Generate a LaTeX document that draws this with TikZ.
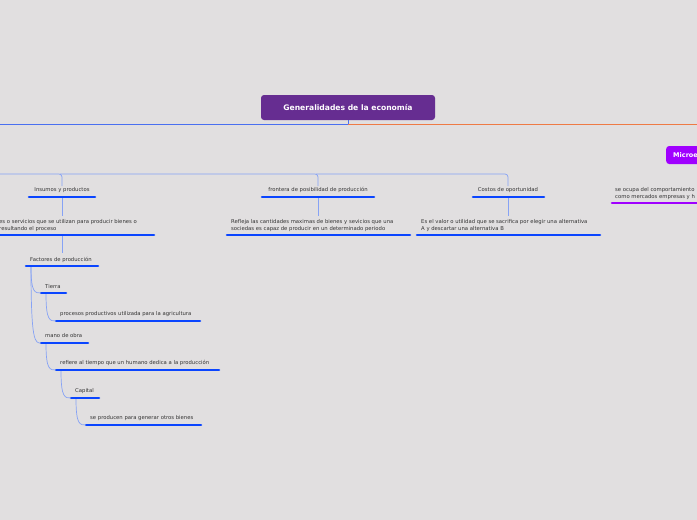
\documentclass[tikz,border=0pt]{standalone}
\usepackage{fontspec}
\setmainfont{DejaVu Sans}
\begin{document}
\begin{tikzpicture}[x=1pt,y=-1pt,
  lbl/.style={font=\fontsize{5.3}{6.6}\selectfont,text=black!80,inner sep=0pt,align=left},
  ul/.style={draw=ulblue,line width=2.6pt,line cap=round},
  conn/.style={draw=lnblue,line width=0.7pt},
  ]
\definecolor{ulblue}{HTML}{0A45FF}
\definecolor{lnblue}{HTML}{86A2F5}
\definecolor{rootc}{HTML}{662D91}
\definecolor{microc}{HTML}{A000FF}
\definecolor{orng}{HTML}{EE7A45}
\definecolor{bgc}{HTML}{E1DFE0}
\definecolor{busblue}{HTML}{4A6FF0}
\useasboundingbox (0,0) rectangle (697,520);
\fill[bgc] (0,0) rectangle (697,520);
\clip (0,0) rectangle (697,520);
% root
\node[fill=rootc,rounded corners=3pt,minimum width=174pt,minimum height=25pt,text=white,font=\bfseries\fontsize{7.6}{9}\selectfont] (root) at (348,107.5) {Generalidades de la  economía};
\coordinate (rb) at (348,124);
\draw[busblue,line width=0.9pt] (root.south) -- (rb) -- (0,124);
\draw[orng,line width=0.9pt] (rb) -- (697,124);
% micro
\node[fill=microc,rounded corners=3pt,anchor=west,minimum height=18pt,text=white,font=\bfseries\fontsize{6.5}{8}\selectfont,inner xsep=7pt] (micro) at (666,155) {Microeconomía};
% top blue bus
\coordinate (bus0) at (0,174);
\draw[conn,rounded corners=3pt] (bus0) -- (62,174) -- (62,186);
\draw[conn,rounded corners=3pt] (60,174) -- (318,174) -- (318,186);
\draw[conn,rounded corners=3pt] (316,174) -- (508,174) -- (508,186);
% Insumos
\node[lbl] (ins) at (62,190) {Insumos y productos};
\draw[ul] (29,197) -- (95,197);
\node[lbl,anchor=west] (bien) at (-1,225.5) {es o servicios que se utilizan para producir bienes o\\resultando el proceso};
\draw[ul] (-5,235) -- (154,235);
\draw[conn] (62,198) -- (62,216);
\draw[conn] (62,236) -- (62,253);
\node[lbl,anchor=west] (fac) at (30,260) {Factores de producción};
\draw[ul] (26,266) -- (98,266);
\node[lbl,anchor=west] (tie) at (45,287) {Tierra};
\draw[ul] (41,293) -- (66,293);
\node[lbl,anchor=west] (proc) at (60,314) {procesos productivos utilizada para la agricultura};
\draw[ul] (56,321) -- (200,321);
\node[lbl,anchor=west] (mano) at (45,336) {mano de obra};
\draw[ul] (41,343) -- (88,343);
\node[lbl,anchor=west] (ref) at (60,363) {refiere al tiempo que un humano dedica a la producción};
\draw[ul] (56,370) -- (219,370);
\node[lbl,anchor=west] (cap) at (75,391) {Capital};
\draw[ul] (71,398) -- (99,398);
\node[lbl,anchor=west] (sep) at (90,418) {se producen para generar otros bienes};
\draw[ul] (86,425) -- (201,425);
\draw[conn] (31,267) .. controls (31,293) and (35,293) .. (41,293);
\draw[conn] (31,267) .. controls (31,343) and (35,343) .. (41,343);
\draw[conn] (46,294) .. controls (46,321) and (50,321) .. (56,321);
\draw[conn] (46,344) .. controls (46,370) and (50,370) .. (56,370);
\draw[conn] (61,371) .. controls (61,398) and (65,398) .. (71,398);
\draw[conn] (76,399) .. controls (76,425) and (80,425) .. (86,425);
% frontera
\node[lbl] (fro) at (318,190) {frontera de posibilidad  de producción};
\draw[ul] (262,197) -- (374,197);
\draw[conn] (318,198) -- (318,216);
\node[lbl,anchor=west] (refl) at (231,225.5) {Refleja las cantidades maximas de bienes y sevicios  que una\\sociedas es capaz de producir en un determinado periodo};
\draw[ul] (227,235) -- (410,235);
% costos
\node[lbl] (cos) at (508,190) {Costos de oportunidad};
\draw[ul] (473,197) -- (544,197);
\draw[conn] (508,198) -- (508,216);
\node[lbl,anchor=west] (val) at (421,225.5) {Es el valor o utilidad que se sacrifica por elegir una alternativa\\A  y descartar una alternativa B};
\draw[ul] (417,235) -- (600,235);
% micro child
\node[lbl,anchor=west] (ocupa) at (615,193.5) {se ocupa del comportamiento\\como mercados empresas y h};
\draw[microc,line width=2.6pt,line cap=round] (612,203) -- (700,203);
\end{tikzpicture}
\end{document}
